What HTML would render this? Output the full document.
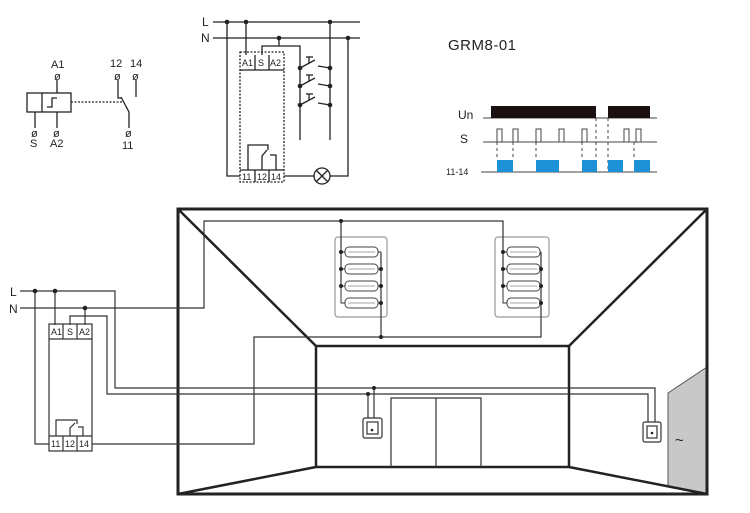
<!DOCTYPE html><html><head><style>body{margin:0;background:#fff}svg{display:block}text{font-family:"Liberation Sans",sans-serif;fill:#222}</style></head><body>
<svg width="750" height="513" viewBox="0 0 750 513" xmlns="http://www.w3.org/2000/svg">
<g fill="none" stroke="#222" stroke-width="1.3">
<rect x="27" y="93" width="44" height="19"/><line x1="42" y1="93" x2="42" y2="112"/>
<polyline points="47,107 52,107 52,98 57,98"/>
<line x1="57" y1="80" x2="57" y2="93"/><line x1="35" y1="112" x2="35" y2="128"/><line x1="57" y1="112" x2="57" y2="128"/>
<line x1="71" y1="102" x2="124" y2="102" stroke-dasharray="2,1.5"/>
<polyline points="118,80 118,98 122,98"/><line x1="136" y1="80" x2="136" y2="97"/>
<polyline points="121,97 129,112 129,128"/>
<line x1="213" y1="22" x2="360" y2="22"/><line x1="213" y1="38" x2="360" y2="38"/>
<polyline points="227,22 227,176 240,176"/><line x1="246" y1="22" x2="246" y2="55"/>
<polyline points="279,38 279,46 262,46 262,55"/><polyline points="279,46 300,46 300,140"/>
<line x1="330" y1="22" x2="330" y2="140"/><polyline points="348,38 348,176 330,176"/>
<polyline points="284,176 314,176"/>
<circle cx="322" cy="176" r="8"/><line x1="316" y1="170" x2="328" y2="182"/><line x1="328" y1="170" x2="316" y2="182"/>
<rect x="240" y="52" width="44" height="130" stroke-dasharray="2,1.5"/>
<line x1="240" y1="70" x2="284" y2="70"/><line x1="255" y1="55" x2="255" y2="70"/><line x1="269" y1="55" x2="269" y2="70"/>
<line x1="240" y1="170" x2="284" y2="170"/><line x1="255" y1="170" x2="255" y2="182"/><line x1="269" y1="170" x2="269" y2="182"/>
<polyline points="248,170 248,145 268,145 268,150"/><polyline points="262,170 262,156 267,150"/><polyline points="270,155 276,155 276,170"/>
<g><polyline points="300,68 315,60"/><polyline points="318,66 330,68"/><line x1="306" y1="57" x2="313" y2="57"/><line x1="309" y1="57" x2="309" y2="63"/></g>
<g><polyline points="300,86 315,78"/><polyline points="318,84 330,86"/><line x1="306" y1="75" x2="313" y2="75"/><line x1="309" y1="75" x2="309" y2="81"/></g>
<g><polyline points="300,105 315,97"/><polyline points="318,103 330,105"/><line x1="306" y1="94" x2="313" y2="94"/><line x1="309" y1="94" x2="309" y2="100"/></g>
</g>
<g fill="#222">
<circle cx="227" cy="22" r="2.3"/><circle cx="246" cy="22" r="2.3"/><circle cx="330" cy="22" r="2.3"/><circle cx="279" cy="38" r="2.3"/><circle cx="348" cy="38" r="2.3"/>
<circle cx="300" cy="68" r="2.3"/><circle cx="300" cy="86" r="2.3"/><circle cx="300" cy="105" r="2.3"/><circle cx="330" cy="68" r="2.3"/><circle cx="330" cy="86" r="2.3"/><circle cx="330" cy="105" r="2.3"/>
</g>
<g font-size="11">
<text x="202" y="26" font-size="12">L</text><text x="201" y="42" font-size="12">N</text>
<text x="242" y="66" font-size="9">A1</text><text x="258" y="66" font-size="9">S</text><text x="270" y="66" font-size="9">A2</text>
<text x="242" y="180" font-size="9">11</text><text x="257" y="180" font-size="9">12</text><text x="271" y="180" font-size="9">14</text>
<text x="51" y="68">A1</text><text x="110" y="67">12</text><text x="130" y="67">14</text>
<text x="30" y="147">S</text><text x="50" y="147">A2</text><text x="122" y="149">11</text>
<text x="54" y="80" font-size="11">ø</text><text x="114" y="80" font-size="11">ø</text><text x="132" y="80" font-size="11">ø</text>
<text x="31" y="137" font-size="11">ø</text><text x="53" y="137" font-size="11">ø</text><text x="125" y="137" font-size="11">ø</text>
<text x="448" y="50" font-size="15" letter-spacing="0.5">GRM8-01</text>
<text x="458" y="119" font-size="12">Un</text><text x="460" y="143" font-size="12">S</text><text x="446" y="175" font-size="9">11-14</text>
</g>
<g stroke="#444" stroke-width="1" fill="none">
<line x1="483" y1="118" x2="657" y2="118"/><line x1="483" y1="142" x2="657" y2="142"/><line x1="481" y1="172" x2="657" y2="172"/>
<g stroke-dasharray="3,3"><line x1="497" y1="142" x2="497" y2="160"/><line x1="513" y1="142" x2="513" y2="160"/><line x1="536" y1="142" x2="536" y2="160"/><line x1="582" y1="142" x2="582" y2="160"/><line x1="596" y1="118" x2="596" y2="172"/><line x1="608" y1="118" x2="608" y2="172"/><line x1="634" y1="142" x2="634" y2="160"/></g>
<path d="M497,142V129H502V142M513,142V129H518V142M536,142V129H541V142M559,142V129H564V142M582,142V129H587V142M624,142V129H629V142M636,142V129H641V142"/>
</g>
<rect x="491" y="106" width="105" height="12" fill="#1a1010"/><rect x="608" y="106" width="42" height="12" fill="#1a1010"/>
<g fill="#1e90d6"><rect x="497" y="160" width="16" height="12"/><rect x="536" y="160" width="23" height="12"/><rect x="582" y="160" width="15" height="12"/><rect x="608" y="160" width="15" height="12"/><rect x="634" y="160" width="16" height="12"/></g>
<polygon points="668,393 707,367 707,494 668,487" fill="#c8c8c8" stroke="#555"/>
<text x="675" y="445" font-size="15">~</text>
<g fill="none" stroke="#222" stroke-width="3">
<rect x="178" y="209" width="529" height="285"/>
<rect x="316" y="346" width="253" height="121" stroke-width="2.5"/>
<line x1="178" y1="209" x2="316" y2="346" stroke-width="2.5"/><line x1="707" y1="209" x2="569" y2="346" stroke-width="2.5"/>
<line x1="178" y1="494" x2="316" y2="467" stroke-width="2.5"/><line x1="707" y1="494" x2="569" y2="467" stroke-width="2.5"/>
</g>
<g fill="none" stroke="#333" stroke-width="1.2">
<polyline points="391,467 391,398 481,398 481,467"/><line x1="436" y1="398" x2="436" y2="467"/>
<rect x="335" y="237" width="52" height="80" rx="3" stroke="#999"/><rect x="495" y="237" width="54" height="80" rx="3" stroke="#999"/>
<polyline points="20,291 115,291 115,388 655,388 655,422"/>
<polyline points="20,308 204,308 204,221 503,221 503,286"/>
<line x1="341" y1="221" x2="341" y2="286"/>
<polyline points="85,308 85,325"/>
<polyline points="70,325 70,316 107,316 107,394 648,394 648,422"/>
<polyline points="35,291 35,444 49,444"/><line x1="55" y1="291" x2="55" y2="325"/>
<polyline points="92,444 254,444 254,337 541,337 541,252"/>
<polyline points="381,337 381,252"/>
<line x1="368" y1="394" x2="368" y2="418"/><line x1="374" y1="388" x2="374" y2="418"/>
<rect x="49" y="324" width="43" height="127"/><line x1="49" y1="339" x2="92" y2="339"/><line x1="63" y1="324" x2="63" y2="339"/><line x1="77" y1="324" x2="77" y2="339"/>
<line x1="49" y1="436" x2="92" y2="436"/><line x1="63" y1="436" x2="63" y2="451"/><line x1="77" y1="436" x2="77" y2="451"/>
<polyline points="56,436 56,420 77,420 77,424"/><polyline points="70,436 70,428 75,423"/><polyline points="78,427 83,427 83,436"/>
<rect x="363" y="418" width="19" height="20" rx="2"/><rect x="367" y="422" width="11" height="12"/>
<rect x="643" y="422" width="18" height="20" rx="2"/><rect x="647" y="426" width="10" height="12"/>
</g>
<g fill="#fff" stroke="#444" stroke-width="1">
<rect x="345" y="247" width="33" height="10" rx="4"/><rect x="345" y="264" width="33" height="10" rx="4"/><rect x="345" y="281" width="33" height="10" rx="4"/><rect x="345" y="298" width="33" height="10" rx="4"/>
<rect x="507" y="247" width="33" height="10" rx="4"/><rect x="507" y="264" width="33" height="10" rx="4"/><rect x="507" y="281" width="33" height="10" rx="4"/><rect x="507" y="298" width="33" height="10" rx="4"/>
</g>
<g stroke="#888" stroke-width="0.8"><line x1="348" y1="252" x2="375" y2="252"/><line x1="348" y1="269" x2="375" y2="269"/><line x1="348" y1="286" x2="375" y2="286"/><line x1="348" y1="303" x2="375" y2="303"/><line x1="510" y1="252" x2="537" y2="252"/><line x1="510" y1="269" x2="537" y2="269"/><line x1="510" y1="286" x2="537" y2="286"/><line x1="510" y1="303" x2="537" y2="303"/></g>
<g stroke="#333" stroke-width="1" fill="none"><path d="M341,252h4M341,269h4M341,286h4M378,252h3M378,269h3M378,286h3M378,303h3M341,286v17h4M503,252h4M503,269h4M503,286h4M503,286v17h4M540,252h1M540,269h1M540,286h1M540,303h1"/></g>
<g fill="#222">
<circle cx="35" cy="291" r="2.3"/><circle cx="55" cy="291" r="2.3"/><circle cx="85" cy="308" r="2.3"/>
<circle cx="341" cy="221" r="2"/><circle cx="381" cy="337" r="2"/><circle cx="368" cy="394" r="2"/><circle cx="374" cy="388" r="2"/>
<circle cx="341" cy="252" r="2"/><circle cx="341" cy="269" r="2"/><circle cx="341" cy="286" r="2"/><circle cx="381" cy="269" r="2"/><circle cx="381" cy="286" r="2"/><circle cx="381" cy="303" r="2"/>
<circle cx="503" cy="252" r="2"/><circle cx="503" cy="269" r="2"/><circle cx="503" cy="286" r="2"/><circle cx="541" cy="269" r="2"/><circle cx="541" cy="286" r="2"/><circle cx="541" cy="303" r="2"/>
<circle cx="372" cy="430" r="1.3"/><circle cx="652" cy="433" r="1.3"/>
</g>
<g font-size="9"><text x="51" y="335">A1</text><text x="67" y="335">S</text><text x="79" y="335">A2</text><text x="51" y="447">11</text><text x="65" y="447">12</text><text x="79" y="447">14</text></g>
<text x="10" y="296" font-size="12">L</text><text x="9" y="313" font-size="12">N</text>
</svg></body></html>
